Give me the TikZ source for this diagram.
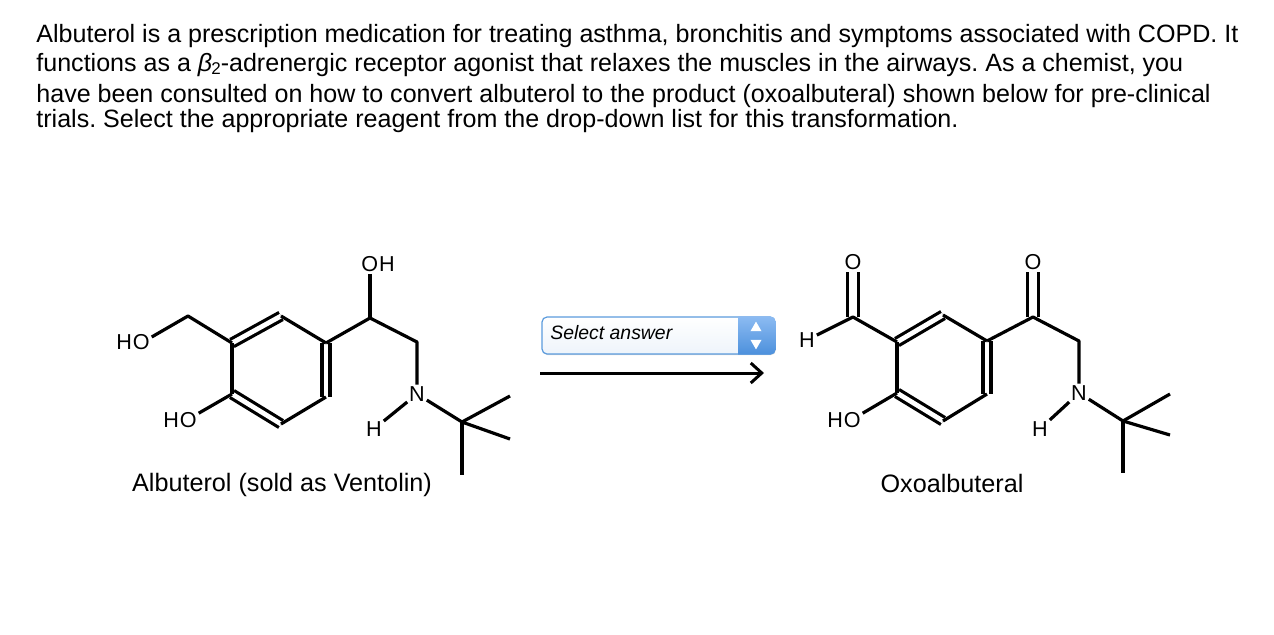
\documentclass[tikz,border=0pt]{standalone}
\usepackage{fontspec}
\setmainfont{Liberation Sans}
\frenchspacing
\usepackage{xcolor}
\usetikzlibrary{shapes.geometric, arrows.meta, positioning, calc, shadows}
\definecolor{selectblue}{HTML}{5B9BDD}
\definecolor{selecttop}{HTML}{8CBBF2}
\definecolor{selectlow}{HTML}{4C90DC}
\definecolor{selectpale}{HTML}{EEF4FB}
\tikzset{
	bond/.style={draw, line width=1.6pt, line join=round},
	dbond/.style={draw, line width=1.6pt, double, double distance=2.4pt},
	carbonyl/.style={draw, line width=1.6pt, double, double distance=3.6pt},
	atom/.style={inner sep=0pt, outer sep=1pt, font=\fontsize{10.8}{12}\selectfont},
	textline/.style={anchor=base west, inner sep=0pt, font=\fontsize{12.53}{14}\selectfont},
	caption/.style={anchor=base, inner sep=0pt, font=\fontsize{12.6}{14}\selectfont}
}
\begin{document}
\begin{tikzpicture}[
		x=0.5pt, y=-0.5pt,
		>={Straight Barb[length=5.5pt, width=10pt]},
		updown/.style={regular polygon, regular polygon sides=3, fill=white, inner sep=0pt, minimum size=6.4pt}
		]
		\useasboundingbox (0,0) rectangle (1274,634);
		
		% --- Question Text ---
		\node[textline] (line1) at (36,42) {Albuterol is a prescription medication for treating asthma, bronchitis and symptoms associated with COPD. It};
		\node[textline] (line2) at (36,71) {functions as a \textit{β}\kern-0.5pt\raisebox{-1.5pt}{\fontsize{8.5}{10}\selectfont 2}-adrenergic receptor agonist that relaxes the muscles in the airways. As a chemist, you};
		\node[textline] (line3) at (36,102) {have been consulted on how to convert albuterol to the product (oxoalbuteral) shown below for pre-clinical};
		\node[textline] (line4) at (36,127) {trials. Select the appropriate reagent from the drop-down list for this transformation.};
		
		% --- Albuterol Atoms ---
		\node[atom] (ho_top) at (133,342) {H\kern0.5pt O};
		\node[atom] (ho_low) at (180,420) {H\kern0.5pt O};
		\node[atom] (oh_side) at (378,264) {O\kern0.5pt H};
		\node[atom] (amine) at (417,394) {N};
		\node[atom] (amine_h) at (374,429) {H};
		\coordinate (ch2) at (188,316);
		\coordinate (ring_a) at (232,343);
		\coordinate (ring_b) at (281,316);
		\coordinate (ring_c) at (326,343);
		\coordinate (ring_d) at (326,397);
		\coordinate (ring_e) at (281,424);
		\coordinate (ring_f) at (232,394);
		\coordinate (choh) at (370,318);
		\coordinate (ch2_n) at (417,342);
		\coordinate (tbu) at (462,422);
		\coordinate (tbu_a) at (510,396);
		\coordinate (tbu_b) at (510,439);
		\coordinate (tbu_c) at (462,475);
		
		% --- Albuterol Bonds ---
		\draw[dbond] (ring_a) -- (ring_b);
		\draw[dbond] (ring_c) -- (ring_d);
		\draw[dbond] (ring_e) -- (ring_f);
		\draw[bond] (ring_b) -- (ring_c);
		\draw[bond] (ring_d) -- (ring_e);
		\draw[bond] (ring_f) -- (ring_a);
		\draw[bond] (ho_top.15) -- (ch2) -- (ring_a);
		\draw[bond] (ho_low.20) -- (ring_f);
		\draw[bond] (ring_c) -- (choh) -- (ch2_n) -- (amine);
		\draw[bond] (choh) -- (choh |- oh_side.south);
		\draw[bond] (amine) -- (amine_h);
		\draw[bond] (amine) -- (tbu);
		\draw[bond] (tbu) -- (tbu_a);
		\draw[bond] (tbu) -- (tbu_b);
		\draw[bond] (tbu) -- (tbu_c);
		\node[caption] (name_left) at (282,491) {Albuterol (sold as Ventolin)};
		
		% --- Drop-down and Reaction Arrow ---
		\node[rectangle, rounded corners=2.5pt, minimum width=116.5pt, minimum height=18.5pt, inner sep=0pt,
			top color=white, bottom color=selectpale, draw=selectblue, line width=0.6pt,
			drop shadow={shadow xshift=0.4pt, shadow yshift=-0.6pt, opacity=0.3, fill=gray}] (select) at (658.5,335.5) {};
		\coordinate (split) at (738,0);
		\shade[top color=selecttop, bottom color=selectlow] (split |- select.north) [rounded corners=2.5pt] -- (select.north east) -- (select.south east) [sharp corners] -- (split |- select.south) -- cycle;
		\node[inner sep=0pt, anchor=west, font=\fontsize{9.7}{12}\selectfont\itshape] (select_text) at (550,333) {Select answer};
		\node[updown] (up_tip) at (756,328) {};
		\node[updown, shape border rotate=180] (down_tip) at (756,343) {};
		\coordinate (arrow_start) at (540,373);
		\coordinate (arrow_end) at (764,373);
		\draw[->, line width=1.5pt] (arrow_start) -- (arrow_end);
		
		% --- Oxoalbuteral Atoms ---
		\node[atom] (cho_h) at (807,340) {H};
		\node[atom] (cho_o) at (853,262) {O};
		\node[atom] (ketone_o) at (1033,262) {O};
		\node[atom] (ho_right) at (844,420) {H\kern0.5pt O};
		\node[atom] (amine2) at (1079,393) {N};
		\node[atom] (amine2_h) at (1040,429) {H};
		\coordinate (cho_c) at (853,317);
		\coordinate (ring2_a) at (897,342);
		\coordinate (ring2_b) at (943,315);
		\coordinate (ring2_c) at (987,341);
		\coordinate (ring2_d) at (987,394);
		\coordinate (ring2_e) at (943,421);
		\coordinate (ring2_f) at (897,393);
		\coordinate (ketone_c) at (1033,317);
		\coordinate (ch2_n2) at (1079,341);
		\coordinate (tbu2) at (1123,421);
		\coordinate (tbu2_a) at (1170,394);
		\coordinate (tbu2_b) at (1170,435);
		\coordinate (tbu2_c) at (1123,473);
		
		% --- Oxoalbuteral Bonds ---
		\draw[dbond] (ring2_a) -- (ring2_b);
		\draw[dbond] (ring2_c) -- (ring2_d);
		\draw[dbond] (ring2_e) -- (ring2_f);
		\draw[carbonyl] (cho_c) -- (cho_o);
		\draw[carbonyl] (ketone_c) -- (ketone_o);
		\draw[bond] (ring2_b) -- (ring2_c);
		\draw[bond] (ring2_d) -- (ring2_e);
		\draw[bond] (ring2_f) -- (ring2_a);
		\draw[bond] (cho_h) -- (cho_c) -- (ring2_a);
		\draw[bond] (ho_right.20) -- (ring2_f);
		\draw[bond] (ring2_c) -- (ketone_c) -- (ch2_n2) -- (amine2);
		\draw[bond] (amine2) -- (amine2_h);
		\draw[bond] (amine2) -- (tbu2);
		\draw[bond] (tbu2) -- (tbu2_a);
		\draw[bond] (tbu2) -- (tbu2_b);
		\draw[bond] (tbu2) -- (tbu2_c);
		\node[caption] (name_right) at (952,492) {Oxoalbuteral};
		
	\end{tikzpicture}
\end{document}
